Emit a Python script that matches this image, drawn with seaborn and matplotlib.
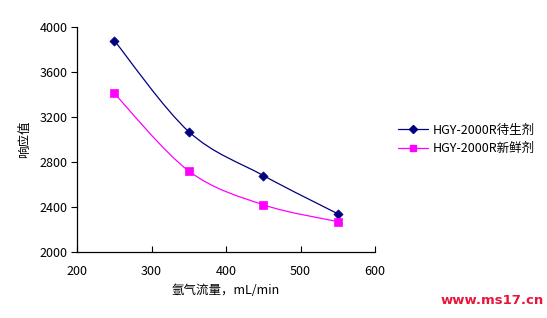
import numpy as np
import matplotlib
matplotlib.use("Agg")
import matplotlib.pyplot as plt
from matplotlib.path import Path
from matplotlib.patches import PathPatch
import seaborn as sns
import pandas as pd

flow = [250, 350, 450, 550]
spent = [3880, 3070, 2680, 2340]
fresh = [3410, 2720, 2420, 2270]
names = ["HGY-2000R待生剂", "HGY-2000R新鲜剂"]
colors = ["#000080", "#FF00FF"]
markers = ["D", "s"]

sns.set_style("white")
plt.rcParams['font.family'] = ['Noto Sans CJK SC', 'DejaVu Sans']
plt.rcParams['text.color'] = 'black'
plt.rcParams['xtick.color'] = 'black'
plt.rcParams['ytick.color'] = 'black'
plt.rcParams['axes.labelcolor'] = 'black'

fig = plt.figure(figsize=(5.47, 3.18), dpi=100)
ax = fig.add_axes([0.1408, 0.2075, 0.5448, 0.7075])


def smooth_path(xs, ys):
    # Catmull-Rom -> cubic bezier, like Excel's smoothed line
    xs = np.asarray(xs, float)
    ys = np.asarray(ys, float)
    pts = np.column_stack([xs, ys])
    verts = [pts[0]]
    codes = [Path.MOVETO]
    n = len(pts)
    for i in range(n - 1):
        p0 = pts[max(i - 1, 0)]
        p1 = pts[i]
        p2 = pts[i + 1]
        p3 = pts[min(i + 2, n - 1)]
        c1 = p1 + (p2 - p0) / 6.0
        c2 = p2 - (p3 - p1) / 6.0
        verts += [c1, c2, p2]
        codes += [Path.CURVE4] * 3
    return Path(verts, codes)


for ys, name, c, m in zip([spent, fresh], names, colors, markers):
    ax.add_patch(PathPatch(smooth_path(flow, ys), fill=False, edgecolor=c, lw=0.9))
    df = pd.DataFrame({"x": flow, "y": ys})
    sns.scatterplot(data=df, x="x", y="y", ax=ax, color=c, marker=m,
                    s=22 if m == "D" else 26, edgecolor=c, linewidth=0.5)
    ax.plot([], [], color=c, marker=m, ms=4.5, lw=0.9, label=name)

ax.set_xlim(200, 600)
ax.set_ylim(2000, 4000)
ax.set_xticks([200, 300, 400, 500, 600])
ax.set_yticks([2000, 2400, 2800, 3200, 3600, 4000])
for s in ["top", "right"]:
    ax.spines[s].set_visible(False)
for s in ["left", "bottom"]:
    ax.spines[s].set_color("black")
    ax.spines[s].set_linewidth(0.9)
ax.tick_params(axis="y", direction="out", length=4, width=0.8, left=True,
               labelsize=9, pad=3)
ax.tick_params(axis="x", direction="in", length=4, width=0.8, bottom=True,
               labelsize=9, pad=9)
ax.set_xlabel("氩气流量，mL/min", fontsize=9, labelpad=5)
ax.set_ylabel("响应值", fontsize=9, labelpad=6)

ax.legend(loc="center left", bbox_to_anchor=(1.04, 0.5), frameon=False,
          fontsize=9, handlelength=2.4, handletextpad=0.4, labelspacing=0.45)

fig.text(0.995, 0.035, "www.ms17.cn", color="#E8173A", fontsize=9.5,
         fontweight="bold", ha="right", va="bottom", family="DejaVu Sans")

fig.savefig("out.png", dpi=100, facecolor="white")
